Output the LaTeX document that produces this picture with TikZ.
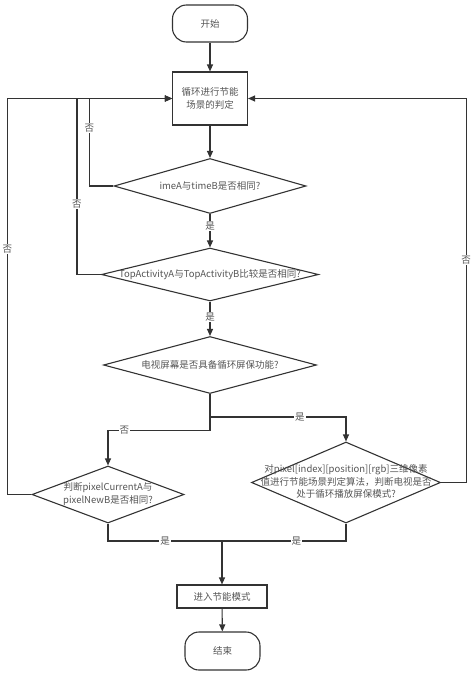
\documentclass[tikz,border=0pt]{standalone}
\usepackage{fontspec}
\setmainfont{Noto Sans CJK SC}
\usepackage{xcolor}
\usetikzlibrary{shapes.geometric,arrows.meta}

\definecolor{linegray}{HTML}{333333}
\definecolor{txtgray}{HTML}{555555}

\begin{document}
\begin{tikzpicture}[x=1pt,y=-1pt,line width=1.1pt,color=linegray,
    >={Triangle[length=7pt,width=6pt]},
    font=\fontsize{9.5}{12.5}\selectfont,
    term/.style={rectangle,rounded corners=14pt,draw,text=txtgray,
      minimum width=75pt,minimum height=37pt},
    proc/.style={rectangle,draw,text=txtgray,align=center},
    decide/.style={diamond,draw,inner sep=0pt,text=txtgray},
    lbl/.style={fill=white,inner sep=1pt,text=txtgray}]
  \useasboundingbox (0,0) rectangle (474,675);

  % nodes
  \node[term] (start) at (210,23.5) {开始};
  \node[proc,minimum width=75pt,minimum height=53pt] (loop) at (210,98.5)
    {循环进行节能\\场景的判定};
  \node[decide,minimum width=192pt,minimum height=55pt] (d1) at (210,186)
    {\makebox[0pt]{imeA与timeB是否相同?}};
  \node[decide,minimum width=217pt,minimum height=53pt] (d2) at (210,274.5)
    {\makebox[0pt]{TopActivityA与TopActivityB比较是否相同?}};
  \node[decide,minimum width=213pt,minimum height=57pt] (d3) at (210,365)
    {\makebox[0pt]{电视屏幕是否具备循环屏保功能?}};
  \node[decide,minimum width=152pt,minimum height=57pt] (d4) at (108,494.5)
    {\makebox[0pt]{\begin{tabular}{@{}c@{}}判断pixelCurrentA与\\pixelNewB是否相同?\end{tabular}}};
  \node[decide,minimum width=189pt,minimum height=81pt] (d5) at (346,482.5)
    {\makebox[0pt]{\begin{tabular}{@{}c@{}}对pixel[index][position][rgb]三维像素\\值进行节能场景判定算法，判断电视是否\\处于循环播放屏保模式?\end{tabular}}};
  \node[proc,minimum width=90pt,minimum height=23pt] (save) at (222,596.5)
    {进入节能模式};
  \node[term,minimum height=38pt] (end) at (222.5,651) {结束};

  \coordinate (split) at (210,417);
  \coordinate (merge) at (222,541);

  % main flow
  \draw[->] (start) -- (loop);
  \draw[->] (loop) -- (d1);
  \draw[->] (d1) -- node[lbl,pos=.35] {是} (d2);
  \draw[->] (d2) -- node[lbl,pos=.45] {是} (d3);
  \draw[->] (d3.south) |- ++(0,36) -| node[lbl,pos=.42] {否} (d4.north);
  \draw[->] (split) -| node[lbl,pos=.33] {是} (d5.north);
  \draw (d4.south) |- node[lbl,pos=.75] {是} (merge);
  \draw (d5.south) |- node[lbl,pos=.7] {是} (merge);
  \draw[->] (merge) -- (save);
  \draw[->] (save) -- (end);

  % back to the loop
  \draw[->] (d1.west) -- ++(-24,0) |- node[lbl,pos=.33] {否} (loop.west);
  \draw[->] (d2.west) -- ++(-24,0) |- node[lbl,pos=.2] {否} (loop.west);
  \draw[->] (d4.west) -- ++(-24,0) |- node[lbl,pos=.31] {否} (loop.west);
  \draw[->] (d5.east) -- ++(25,0) |- node[lbl,pos=.29] {否} (loop.east);
\end{tikzpicture}
\end{document}
